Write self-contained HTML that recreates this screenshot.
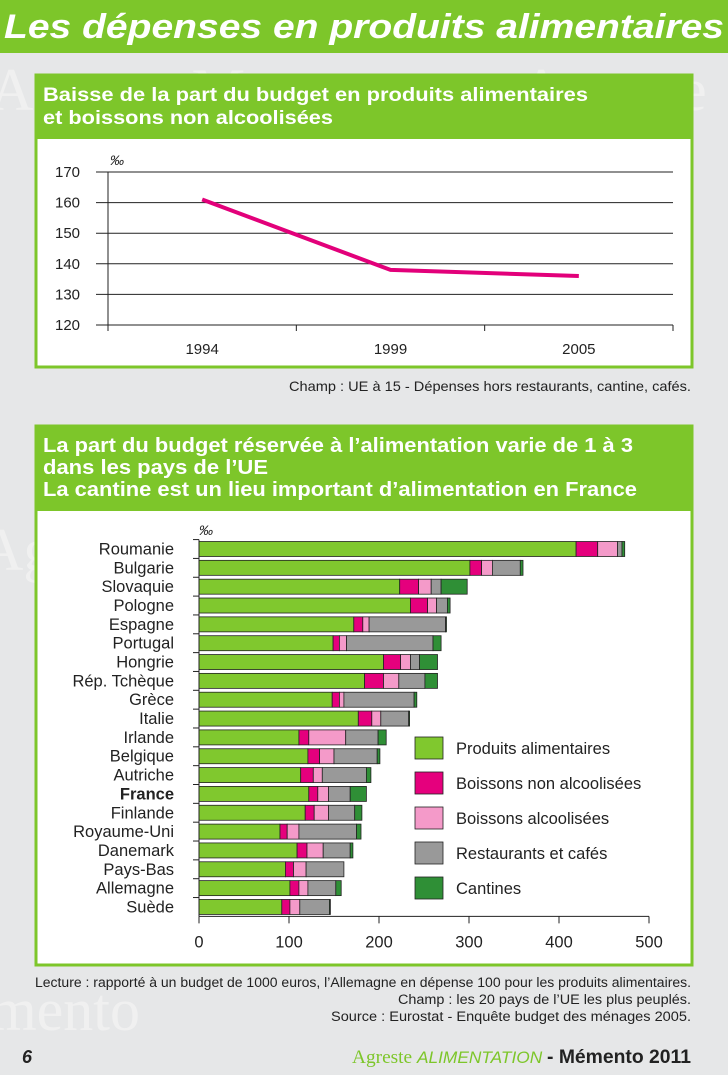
<!DOCTYPE html>
<html><head><meta charset="utf-8">
<style>
body{margin:0;background:#e6e7e8;}
svg{display:block;font-family:"Liberation Sans",sans-serif;}
</style></head>
<body>
<svg id="page" width="728" height="1075" viewBox="0 0 728 1075">
<rect x="0" y="0" width="728" height="1075" fill="#e6e7e8"/>
<g fill="#f3f3f3" font-family="Liberation Serif,serif" font-size="60" opacity="0.8">
<text x="-10" y="110">Agreste Memento</text>
<text x="520" y="110">Agreste</text>
<text x="-20" y="570">Agreste</text>
<text x="-10" y="1030">mento</text>
</g>
<rect x="0" y="0" width="728" height="53" fill="#7dc62a"/>
<text x="4" y="38" fill="#fff" font-size="34" font-weight="bold" font-style="italic" textLength="720" lengthAdjust="spacingAndGlyphs">Les dépenses en produits alimentaires</text>

<!-- Box 1 -->
<rect x="36" y="75" width="656" height="292" fill="#fff" stroke="#7dc62a" stroke-width="3"/>
<rect x="36" y="75" width="656" height="64" fill="#7dc62a"/>
<text fill="#fff" font-size="19.5" font-weight="bold"><tspan x="43" y="101" textLength="545" lengthAdjust="spacingAndGlyphs">Baisse de la part du budget en produits alimentaires</tspan><tspan x="43" y="124" textLength="290" lengthAdjust="spacingAndGlyphs">et boissons non alcoolisées</tspan></text>
<g id="chart1"></g>
<text x="289" y="391" font-size="14" fill="#222" textLength="402" lengthAdjust="spacingAndGlyphs">Champ : UE à 15 - Dépenses hors restaurants, cantine, cafés.</text>

<!-- Box 2 -->
<rect x="36" y="426" width="656" height="539" fill="#fff" stroke="#7dc62a" stroke-width="3"/>
<rect x="36" y="426" width="656" height="85" fill="#7dc62a"/>
<text fill="#fff" font-size="20" font-weight="bold"><tspan x="43" y="452" textLength="590" lengthAdjust="spacingAndGlyphs">La part du budget réservée à l’alimentation varie de 1 à 3</tspan><tspan x="43" y="474" textLength="225" lengthAdjust="spacingAndGlyphs">dans les pays de l’UE</tspan><tspan x="43" y="496" textLength="594" lengthAdjust="spacingAndGlyphs">La cantine est un lieu important d’alimentation en France</tspan></text>
<g id="chart2"></g>

<g font-size="13.5" fill="#222">
<text x="35" y="987" textLength="656" lengthAdjust="spacingAndGlyphs">Lecture : rapporté à un budget de 1000 euros, l’Allemagne en dépense 100 pour les produits alimentaires.</text>
<text x="398" y="1004" textLength="293" lengthAdjust="spacingAndGlyphs">Champ : les 20 pays de l’UE les plus peuplés.</text>
<text x="331" y="1021" textLength="360" lengthAdjust="spacingAndGlyphs">Source : Eurostat - Enquête budget des ménages 2005.</text>
</g>
<text x="22" y="1063" font-size="18" font-weight="bold" font-style="italic" fill="#222">6</text>
<text x="352" y="1063" font-size="19" textLength="339" lengthAdjust="spacingAndGlyphs"><tspan fill="#7dc62a" font-family="Liberation Serif,serif">Agreste </tspan><tspan fill="#7dc62a" font-style="italic" font-size="17">ALIMENTATION </tspan><tspan fill="#222" font-weight="bold"> - Mémento 2011</tspan></text>
</svg>
<script>
const NS='http://www.w3.org/2000/svg';
function mk(parent,tag,attrs,txt){const e=document.createElementNS(NS,tag);for(const k in attrs)e.setAttribute(k,attrs[k]);if(txt!==undefined)e.textContent=txt;parent.appendChild(e);return e;}

// ---- Line chart data ----
const lineYears=['1994','1999','2005'];
const lineValues=[161,138,136];
const lineTicks=[120,130,140,150,160,170];

// ---- Bar chart data ----
const countries=['Roumanie','Bulgarie','Slovaquie','Pologne','Espagne','Portugal','Hongrie','Rép. Tchèque','Grèce','Italie','Irlande','Belgique','Autriche','France','Finlande','Royaume-Uni','Danemark','Pays-Bas','Allemagne','Suède'];
const food=[419,301,223,235,172,149,205,184,148,177,111,121,113,122,118,90,109,96,101,92];
const softDrinks=[24,13,21,19,10,7,19,21,8,15,11,13,14,10,10,8,11,9,10,9];
const alcohol=[22,12,14,10,7,8,11,17,5,10,41,16,10,12,16,13,18,14,10,11];
const restaurants=[5,31,11,12,85,96,10,29,78,31,36,48,49,24,29,64,30,42,31,33];
const canteens=[3,3,29,3,1,9,20,14,3,1,9,3,5,18,8,5,3,0,6,1];
const seriesNames=['Produits alimentaires','Boissons non alcoolisées','Boissons alcoolisées','Restaurants et cafés','Cantines'];
const xTicks=[0,100,200,300,400,500];

// Line chart
(function(){
  const g=document.getElementById('chart1');
  const x0=108,x1=673,yTop=172,yBot=325;
  const y=v=>yBot-(v-120)/(170-120)*(yBot-yTop);
  const band=(x1-x0)/lineYears.length;
  const x=i=>x0+band*(i+0.5);
  lineTicks.forEach(t=>{
    const l=mk(g,'line',{x1:x0-12,x2:x1,y1:y(t),y2:y(t),stroke:'#222','stroke-width':1});
    
    
    const tx=mk(g,'text',{x:55,y:y(t)+5,'font-size':15,fill:'#222'},t);
    
    
  });
  const ax=mk(g,'line',{x1:x0,x2:x0,y1:yTop,y2:yBot+6,stroke:'#222','stroke-width':1});
  
  
  for(let i=0;i<=lineYears.length;i++){
    const t=mk(g,'line',{x1:x0+band*i,x2:x0+band*i,y1:yBot,y2:yBot+6,stroke:'#222'});
    
    
  }
  lineYears.forEach((yr,i)=>{
    const t=mk(g,'text',{x:x(i),y:354,'text-anchor':'middle','font-size':15,fill:'#222'},yr);
    
    
  });
  const u=mk(g,'text',{x:110,y:165,'font-size':14,'font-style':'italic',fill:'#222'},'‰');
  
  
  const pts=lineValues.map((v,i)=>x(i)+','+y(v)).join(' ');
  const pl=mk(g,'polyline',{points:pts,fill:'none',stroke:'#e2007a','stroke-width':4,'stroke-linejoin':'round'});
  
  
})();

// Bar chart
(function(){
  const g=document.getElementById('chart2');
  const x0=199,x1=649,yFirst=549,step=18.84,bh=15;
  const x=v=>x0+v/500*(x1-x0);
  const colors=['#80c82e','#e5007d','#f49ac9','#999999','#2f8f36'];
  const series=[food,softDrinks,alcohol,restaurants,canteens];
  countries.forEach((c,i)=>{
    const cy=yFirst+i*step;
    const t=mk(g,'text',{x:174,y:cy+5.5,'text-anchor':'end','font-size':16.5,fill:'#222','font-weight':c==='France'?'bold':'normal'},c);
    
    
    const tk=mk(g,'line',{x1:x0-6,x2:x0,y1:cy-step/2,y2:cy-step/2,stroke:'#222'});
    
    
    let acc=0;
    series.forEach((s,k)=>{
      const v=s[i];
      if(v<=0)return;
      const r=mk(g,'rect',{x:x(acc),y:cy-bh/2,width:x(acc+v)-x(acc),height:bh,fill:colors[k],stroke:'#222','stroke-width':0.8});
      
      
      acc+=v;
    });
  });
  const yEnd=yFirst+(countries.length-0.5)*step;
  const ya=mk(g,'line',{x1:x0,x2:x0,y1:yFirst-step/2,y2:yEnd,stroke:'#222'});
  
  
  const xa=mk(g,'line',{x1:x0,x2:x1,y1:yEnd,y2:yEnd,stroke:'#222'});
  
  
  xTicks.forEach(t=>{
    const l=mk(g,'line',{x1:x(t),x2:x(t),y1:yEnd,y2:yEnd+7,stroke:'#222'});
    
    
    const tx=mk(g,'text',{x:x(t),y:yEnd+31,'text-anchor':'middle','font-size':16.5,fill:'#222'},t);
    
    
  });
  const u=mk(g,'text',{x:199,y:535,'font-size':14,'font-style':'italic',fill:'#222'},'‰');
  
  
  seriesNames.forEach((n,k)=>{
    const cy=748+k*35;
    const sw=mk(g,'rect',{x:415,y:cy-11,width:28,height:22,fill:colors[k],stroke:'#222','stroke-width':0.8});
    
    
    const t=mk(g,'text',{x:456,y:cy+6,'font-size':16.5,fill:'#222'},n);
    
    
  });
})();
</script>
</body></html>
